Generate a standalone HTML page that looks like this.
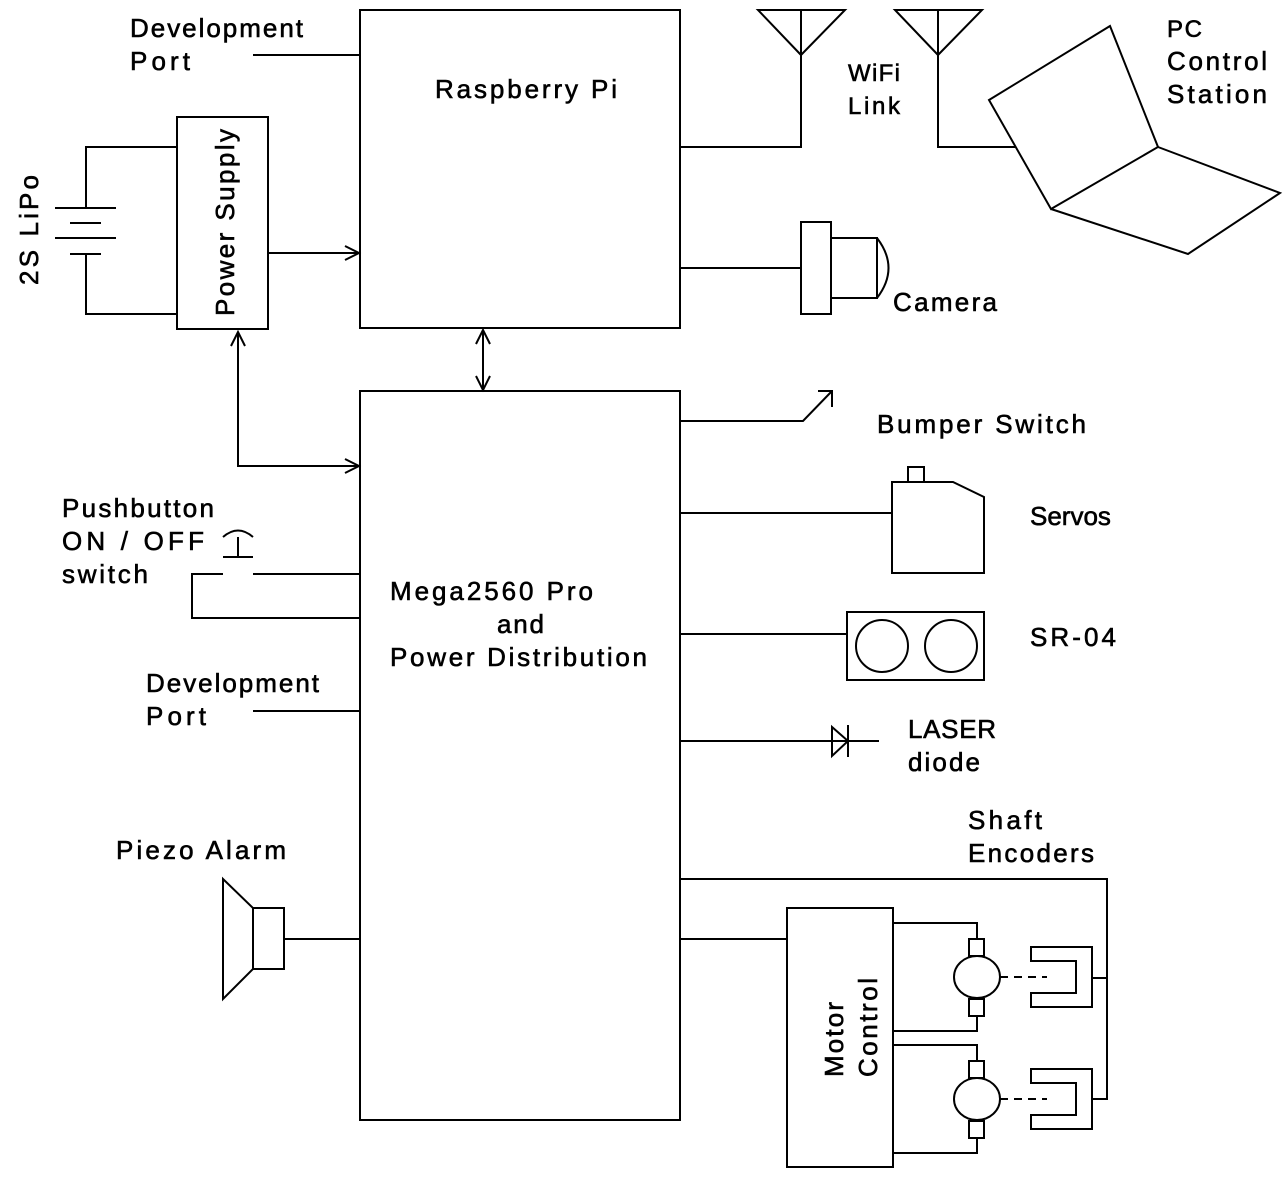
<!DOCTYPE html>
<html><head><meta charset="utf-8"><style>
html,body{margin:0;padding:0;background:#fff;}
svg{display:block}
text{font-family:"Liberation Sans",sans-serif;font-size:26px;fill:#000;stroke:#000;stroke-width:0.6px;}
</style></head><body>
<svg width="1285" height="1178" viewBox="0 0 1285 1178" xmlns="http://www.w3.org/2000/svg">
<g fill="none" stroke="#000" stroke-width="2">
<rect x="360" y="10" width="320" height="318"/>
<line x1="253" y1="55" x2="360" y2="55"/>
<rect x="177" y="117" width="91" height="212"/>
<polyline points="177,147 86,147 86,208"/>
<line x1="55" y1="208" x2="116" y2="208"/>
<line x1="70" y1="223" x2="101" y2="223"/>
<line x1="55" y1="238" x2="116" y2="238"/>
<line x1="70" y1="254" x2="101" y2="254"/>
<polyline points="86,254 86,314 177,314"/>
<line x1="268" y1="253" x2="359" y2="253"/>
<polyline points="345,246 359,253 345,260"/>
<polyline points="238,332 238,466 359,466"/>
<polyline points="345,459 359,466 345,473"/>
<polyline points="231,346 238,332 245,346"/>
<line x1="483" y1="330" x2="483" y2="390"/>
<polyline points="476,344 483,330 490,344"/>
<polyline points="476,376 483,390 490,376"/>
<rect x="360" y="391" width="320" height="729"/>
<path d="M223,537 Q238,524 253,537"/>
<line x1="238" y1="537" x2="238" y2="557"/>
<line x1="223" y1="557" x2="253" y2="557"/>
<line x1="253" y1="574" x2="360" y2="574"/>
<polyline points="223,574 192,574 192,618 360,618"/>
<line x1="253" y1="711" x2="360" y2="711"/>
<polygon points="223,879 253,908 253,969 223,999"/>
<rect x="253" y="908" width="31" height="61"/>
<line x1="284" y1="939" x2="360" y2="939"/>
<polyline points="680,147 801,147 801,10"/>
<polygon points="758,10 845,10 801,55"/>
<polygon points="895,10 982,10 938,55"/>
<polyline points="938,10 938,147 1015,147"/>
<polygon points="989,100 1110,26 1158,147 1051,209"/>
<polyline points="1051,209 1188,254 1280,193 1158,147"/>
<line x1="680" y1="268" x2="801" y2="268"/>
<rect x="801" y="222" width="30" height="92"/>
<rect x="831" y="238" width="46" height="60"/>
<path d="M877,238 Q900,268 877,298"/>
<polyline points="680,421 803,421 832,391"/>
<polyline points="818,391 832,391 832,407"/>
<polygon points="892,482 953,482 984,497 984,573 892,573"/>
<rect x="908" y="467" width="16" height="15"/>
<line x1="680" y1="513" x2="892" y2="513"/>
<rect x="847" y="612" width="137" height="68"/>
<circle cx="882" cy="646" r="26"/>
<circle cx="951" cy="646" r="26"/>
<line x1="680" y1="634" x2="847" y2="634"/>
<line x1="680" y1="741" x2="879" y2="741"/>
<polygon points="832,727 832,756 848,741"/>
<line x1="848" y1="725" x2="848" y2="757"/>
<polyline points="680,879 1107,879 1107,1099 1092,1099"/>
<line x1="1092" y1="978" x2="1107" y2="978"/>
<polygon points="1031,947 1092,947 1092,1007 1031,1007 1031,993 1076,993 1076,961 1031,961"/>
<polygon points="1031,1069 1092,1069 1092,1129 1031,1129 1031,1115 1076,1115 1076,1083 1031,1083"/>
<rect x="787" y="908" width="106" height="259"/>
<line x1="680" y1="939" x2="787" y2="939"/>
<polyline points="893,923 977,923 977,939"/>
<rect x="969" y="939" width="15" height="17"/>
<ellipse cx="977" cy="977" rx="23" ry="21"/>
<rect x="969" y="999" width="15" height="17"/>
<polyline points="977,1016 977,1031 893,1031"/>
<polyline points="893,1045 977,1045 977,1061"/>
<rect x="969" y="1061" width="15" height="17"/>
<ellipse cx="977" cy="1099" rx="23" ry="21"/>
<rect x="969" y="1121" width="15" height="17"/>
<polyline points="977,1138 977,1153 893,1153"/>
<line x1="1000" y1="977" x2="1047" y2="977" stroke-dasharray="8,6"/>
<line x1="1000" y1="1099" x2="1047" y2="1099" stroke-dasharray="8,6"/>
</g>
<g>
<text x="130" y="37" textLength="173" lengthAdjust="spacing">Development</text>
<text x="130" y="70" textLength="60" lengthAdjust="spacing">Port</text>
<text x="435" y="98" textLength="182" lengthAdjust="spacing">Raspberry  Pi</text>
<text x="848" y="81" textLength="52" lengthAdjust="spacing" style="font-size:24px">WiFi</text>
<text x="848" y="114" textLength="52" lengthAdjust="spacing" style="font-size:24px">Link</text>
<text x="1167" y="37" textLength="35" lengthAdjust="spacing" style="font-size:24px">PC</text>
<text x="1167" y="70" textLength="100" lengthAdjust="spacing">Control</text>
<text x="1167" y="103" textLength="100" lengthAdjust="spacing">Station</text>
<text x="893" y="311" textLength="104" lengthAdjust="spacing">Camera</text>
<text x="877" y="433" textLength="209" lengthAdjust="spacing">Bumper  Switch</text>
<text x="1030" y="525">Servos</text>
<text x="1030" y="646" textLength="86" lengthAdjust="spacing">SR-04</text>
<text x="908" y="738" textLength="88" lengthAdjust="spacing">LASER</text>
<text x="908" y="771" textLength="72" lengthAdjust="spacing">diode</text>
<text x="968" y="829" textLength="74" lengthAdjust="spacing">Shaft</text>
<text x="968" y="862" textLength="126" lengthAdjust="spacing">Encoders</text>
<text x="62" y="517" textLength="152" lengthAdjust="spacing">Pushbutton</text>
<text x="62" y="550" textLength="142" lengthAdjust="spacing">ON / OFF</text>
<text x="62" y="583" textLength="86" lengthAdjust="spacing">switch</text>
<text x="390" y="600" textLength="203" lengthAdjust="spacing">Mega2560  Pro</text>
<text x="497" y="633" textLength="47" lengthAdjust="spacing">and</text>
<text x="390" y="666" textLength="257" lengthAdjust="spacing">Power  Distribution</text>
<text x="146" y="692" textLength="173" lengthAdjust="spacing">Development</text>
<text x="146" y="725" textLength="60" lengthAdjust="spacing">Port</text>
<text x="116" y="859" textLength="170" lengthAdjust="spacing">Piezo  Alarm</text>
<text transform="translate(234,316) rotate(-90)" textLength="187" lengthAdjust="spacing">Power  Supply</text>
<text transform="translate(38,285) rotate(-90)" textLength="110" lengthAdjust="spacing">2S  LiPo</text>
<text transform="translate(843,1077) rotate(-90)" textLength="75" lengthAdjust="spacing">Motor</text>
<text transform="translate(877,1077) rotate(-90)" textLength="99" lengthAdjust="spacing">Control</text>
</g>
</svg>
</body></html>
